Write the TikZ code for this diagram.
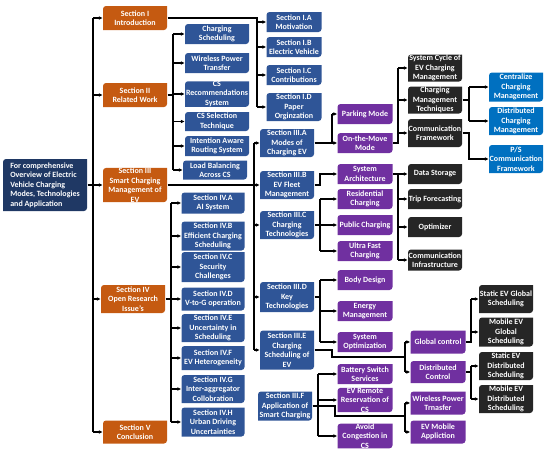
\documentclass[tikz,border=0pt]{standalone}
\usepackage{fontspec}
\setmainfont{Carlito}
\usetikzlibrary{arrows.meta}

\definecolor{secorange}{HTML}{C55A11}
\definecolor{secblue}{HTML}{2F5597}
\definecolor{rootnavy}{HTML}{1F3864}
\definecolor{subpurple}{HTML}{7030A0}
\definecolor{leafblack}{HTML}{262626}
\definecolor{leafblue}{HTML}{0070C0}

\newcommand{\diagfill}[1]{%
  \fill[#1] (path picture bounding box.south west)
    -- ([yshift=-3pt]path picture bounding box.north west)
    arc[start angle=180, end angle=90, radius=3pt]
    -- (path picture bounding box.north east)
    -- ([yshift=3pt]path picture bounding box.south east)
    arc[start angle=0, end angle=-90, radius=3pt] -- cycle;}

\tikzset{
  box/.style={inner sep=0pt, align=center, text=white,
    font=\bfseries\fontsize{8}{9.5}\selectfont, path picture={\diagfill{#1}}},
  rootnode/.style={box=rootnavy, align=left, minimum width=84pt, minimum height=52pt},
  secnode/.style={box=secorange, minimum width=64pt},
  bluenode/.style={box=secblue},
  purplenode/.style={box=subpurple, minimum width=55pt, minimum height=20pt},
  blacknode/.style={box=leafblack, minimum width=54pt},
  cyannode/.style={box=leafblue, minimum width=54pt}
}

\begin{document}
\begin{tikzpicture}[x=1pt, y=-1pt, >={Triangle[length=3.5pt, width=3.2pt]}, line width=1.1pt]
    \useasboundingbox (0,0) rectangle (550,453);

    \node[rootnode] (root) at (45,185) {For comprehensive\\Overview of Electric\\Vehicle Charging\\Modes, Technologies\\and Application};

    \node[secnode, minimum height=24pt] (secI) at (135,18) {Section I\\Introduction};
    \node[secnode, minimum height=24pt] (secII) at (135,95) {Section II\\Related Work};
    \node[secnode, minimum height=34pt] (secIII) at (135,185) {Section III\\Smart Charging\\Management of\\EV};
    \node[secnode, minimum height=28pt] (secIV) at (133,299) {Section IV\\Open Research\\Issue’s};
    \node[secnode, minimum height=23pt] (secV) at (135,432) {Section V\\Conclusion};

    \begin{scope}[bluenode/.append style={minimum width=55pt}]
        \node[bluenode, minimum height=20pt] (secIA) at (294,22) {Section I.A\\Motivation};
        \node[bluenode, minimum height=20pt] (secIB) at (294,47) {Section I.B\\Electric Vehicle};
        \node[bluenode, minimum height=20pt] (secIC) at (294,75) {Section I.C\\Contributions};
        \node[bluenode, minimum height=28pt] (secID) at (294,107) {Section I.D\\Paper\\Orginzation};
    \end{scope}

    \begin{scope}[bluenode/.append style={minimum width=64pt}]
        \node[bluenode, minimum height=20pt] (chsched) at (217,34) {Charging\\Scheduling};
        \node[bluenode, minimum height=20pt] (wpt) at (217,63) {Wireless Power\\Transfer};
        \node[bluenode, minimum height=22pt] (csrec) at (217,94) {CS\\Recommendations\\System};
        \node[bluenode, minimum height=19pt] (cssel) at (217,121.5) {CS Selection\\Technique};
        \node[bluenode, minimum height=20pt] (intent) at (217,146) {Intention Aware\\Routing System};
        \node[bluenode, minimum height=19pt] (loadbal) at (215,170) {Load Balancing\\Across CS};
    \end{scope}

    \begin{scope}[bluenode/.append style={minimum width=54pt}]
        \node[bluenode, minimum height=28pt] (secIIIA) at (287,143) {Section III.A\\Modes of\\Charging EV};
        \node[bluenode, minimum height=28pt] (secIIIB) at (287,185) {Section III.B\\EV Fleet\\Management};
        \node[bluenode, minimum height=28pt] (secIIIC) at (287,225) {Section III.C\\Charging\\Technologies};
        \node[bluenode, minimum height=30pt] (secIIID) at (287,297) {Section III.D\\Key\\Technologies};
        \node[bluenode, minimum height=39pt] (secIIIE) at (287,350) {Section III.E\\Charging\\Scheduling of\\EV};
        \node[bluenode, minimum height=29pt] (secIIIF) at (285,406) {Section III.F\\Application of\\Smart Charging};
    \end{scope}

    \begin{scope}[bluenode/.append style={minimum width=63pt}]
        \node[bluenode, minimum height=21pt] (secIVA) at (213,203) {Section IV.A\\AI System};
        \node[bluenode, minimum height=29pt] (secIVB) at (213,236) {Section IV.B\\Efficient Charging\\Scheduling};
        \node[bluenode, minimum height=30pt] (secIVC) at (213,267) {Section IV.C\\Security\\Challenges};
        \node[bluenode, minimum height=23pt] (secIVD) at (213,299) {Section IV.D\\V-to-G operation};
        \node[bluenode, minimum height=28pt] (secIVE) at (213,328) {Section IV.E\\Uncertainty in\\Scheduling};
        \node[bluenode, minimum height=24pt] (secIVF) at (213,358) {Section IV.F\\EV Heterogeneity};
        \node[bluenode, minimum height=28pt] (secIVG) at (213,389) {Section IV.G\\Inter-aggregator\\Collobration};
        \node[bluenode, minimum height=29pt] (secIVH) at (213,422) {Section IV.H\\Urban Driving\\Uncertainties};
    \end{scope}

    \node[purplenode] (parking) at (365,114) {Parking Mode};
    \node[purplenode] (onmove) at (365,143) {On-the-Move\\Mode};
    \node[purplenode] (sysarch) at (365,174) {System\\Architecture};
    \node[purplenode] (resid) at (365,199) {Residential\\Charging};
    \node[purplenode] (public) at (365,225) {Public Charging};
    \node[purplenode] (ultra) at (365,251) {Ultra Fast\\Charging};
    \node[purplenode] (body) at (365,280) {Body Design};
    \node[purplenode] (energy) at (365,311) {Energy\\Management};
    \node[purplenode] (sysopt) at (365,342) {System\\Optimization};
    \node[purplenode] (battery) at (365,374) {Battery Switch\\Services};
    \node[purplenode, minimum height=24pt] (remote) at (365,400) {EV Remote\\Reservation of\\CS};
    \node[purplenode, minimum height=23pt] (avoid) at (365,436) {Avoid\\Congestion in\\CS};
    \node[purplenode, minimum height=23pt] (global) at (438,342) {Global control};
    \node[purplenode, minimum height=22pt] (distctl) at (438,372) {Distributed\\Control};
    \node[purplenode, minimum height=23pt] (wireless) at (438,403) {Wireless Power\\Trnasfer};
    \node[purplenode, minimum height=23pt] (mobileapp) at (438,432) {EV Mobile\\Appliction};

    \node[blacknode, minimum height=27pt] (cycle) at (435,68) {System Cycle of\\EV Charging\\Management};
    \node[blacknode, minimum height=27pt] (cmt) at (435,100) {Charging\\Management\\Techniques};
    \node[blacknode, minimum height=28pt] (commfw) at (435,133) {Communication\\Framework};
    \node[blacknode, minimum height=20pt] (datast) at (435,174) {Data Storage};
    \node[blacknode, minimum height=20pt] (trip) at (435,199) {Trip Forecasting};
    \node[blacknode, minimum height=20pt] (optim) at (435,227) {Optimizer};
    \node[blacknode, minimum height=21pt] (comminf) at (435,260) {Communication\\Infrastructure};
    \node[blacknode, minimum height=28pt] (sglobal) at (506,299) {Static EV Global\\Scheduling};
    \node[blacknode, minimum height=29pt] (mglobal) at (506,332) {Mobile EV\\Global\\Scheduling};
    \node[blacknode, minimum height=28pt] (sdist) at (506,366) {Static EV\\Distributed\\Scheduling};
    \node[blacknode, minimum height=28pt] (mdist) at (506,399) {Mobile EV\\Distributed\\Scheduling};

    \node[cyannode, minimum height=29pt] (central) at (516,87) {Centralize\\Charging\\Management};
    \node[cyannode, minimum height=28pt] (distrib) at (516,121) {Distributed\\Charging\\Management};
    \node[cyannode, minimum height=28pt] (ps) at (516,159) {P/S\\Communication\\Framework};

    \coordinate (mainbus) at (93,0);
    \coordinate (busI) at (257,0);
    \coordinate (busII) at (173,0);
    \coordinate (busIII) at (254,0);
    \coordinate (busIV) at (171,0);
    \coordinate (busModes) at (332,0);
    \coordinate (busTech) at (320,0);
    \coordinate (busApp) at (318,0);
    \coordinate (busRight) at (398,0);
    \coordinate (busCtl) at (405,0);
    \coordinate (busMgmt) at (469,0);
    \coordinate (busSched) at (471,0);
    \coordinate (jogE) at (332,357);
    \coordinate (jogF) at (335,416);

    \draw[->] (root.east) -- (secIII.west);
    \draw (mainbus |- secI.west) -- (mainbus |- secV.west);
    \foreach \n in {secI,secII,secIV,secV}
        \draw[->] (mainbus |- \n.west) -- (\n.west);

    \draw (secI.east) -- (busI |- secI.east) -- (busI |- secID.west);
    \foreach \n in {secIA,secIB,secIC,secID}
        \draw[->] (busI |- \n.west) -- (\n.west);

    \draw (secII.east) -- (busII |- secII.east);
    \draw (busII |- chsched.west) -- (busII |- loadbal.west);
    \foreach \n in {chsched,wpt,csrec,cssel,intent,loadbal}
        \draw[->] (busII |- \n.west) -- (\n.west);

    \draw[->] (secIII.east) -- (secIIIB.west);
    \draw (busIII |- secIIIA.west) -- (busIII |- secIIIE.west);
    \foreach \n in {secIIIA,secIIIC,secIIID,secIIIE}
        \draw[->] (busIII |- \n.west) -- (\n.west);

    \draw (secIV.east) -- (busIV |- secIV.east);
    \draw (busIV |- secIVA.west) -- (busIV |- secIVH.west);
    \foreach \n in {secIVA,secIVB,secIVC,secIVD,secIVE,secIVF,secIVG,secIVH}
        \draw[->] (busIV |- \n.west) -- (\n.west);

    \draw (secIIIA.east) -- (busModes |- secIIIA.east) -- (busModes |- parking.west);
    \foreach \n in {parking,onmove}
        \draw[->] (busModes |- \n.west) -- (\n.west);

    \draw[->] (secIIIB.east) -| (busTech |- sysarch.west) -- (sysarch.west);

    \draw (secIIIC.east) -- (busTech |- secIIIC.east);
    \draw (busTech |- resid.west) -- (busTech |- ultra.west);
    \foreach \n in {resid,public,ultra}
        \draw[->] (busTech |- \n.west) -- (\n.west);

    \draw (secIIID.east) -- (busTech |- secIIID.east);
    \draw (busTech |- body.west) -- (busTech |- sysopt.west);
    \foreach \n in {body,energy,sysopt}
        \draw[->] (busTech |- \n.west) -- (\n.west);

    \draw (secIIIE.east) -| (jogE) -- (busCtl |- jogE);
    \draw (busCtl |- global.west) -- (busCtl |- distctl.west);
    \foreach \n in {global,distctl}
        \draw[->] (busCtl |- \n.west) -- (\n.west);

    \draw (secIIIF.east) -- (busApp |- secIIIF.east);
    \draw (busApp |- battery.west) -- (busApp |- avoid.west);
    \foreach \n in {battery,remote,avoid}
        \draw[->] (busApp |- \n.west) -- (\n.west);
    \draw (secIIIF.east) -| (jogF) -- (busCtl |- jogF);
    \draw (busCtl |- wireless.west) -- (busCtl |- mobileapp.west);
    \foreach \n in {wireless,mobileapp}
        \draw[->] (busCtl |- \n.west) -- (\n.west);

    \draw (onmove.east) -- (busRight |- onmove.east) -- (busRight |- cycle.west);
    \foreach \n in {cycle,cmt,commfw}
        \draw[->] (busRight |- \n.west) -- (\n.west);

    \draw (sysarch.east) -- (busRight |- sysarch.east) -- (busRight |- comminf.west);
    \foreach \n in {datast,trip,optim,comminf}
        \draw[->] (busRight |- \n.west) -- (\n.west);

    \draw (cmt.east) -- (busMgmt |- cmt.east);
    \draw (busMgmt |- central.west) -- (busMgmt |- distrib.west);
    \foreach \n in {central,distrib}
        \draw[->] (busMgmt |- \n.west) -- (\n.west);
    \draw[->] (commfw.east) -| (busMgmt |- ps.west) -- (ps.west);

    \draw (global.east) -- (busSched |- global.east) -- (busSched |- sglobal.west);
    \foreach \n in {sglobal,mglobal}
        \draw[->] (busSched |- \n.west) -- (\n.west);

    \draw (distctl.east) -- (busSched |- distctl.east);
    \draw (busSched |- sdist.west) -- (busSched |- mdist.west);
    \foreach \n in {sdist,mdist}
        \draw[->] (busSched |- \n.west) -- (\n.west);
\end{tikzpicture}
\end{document}
